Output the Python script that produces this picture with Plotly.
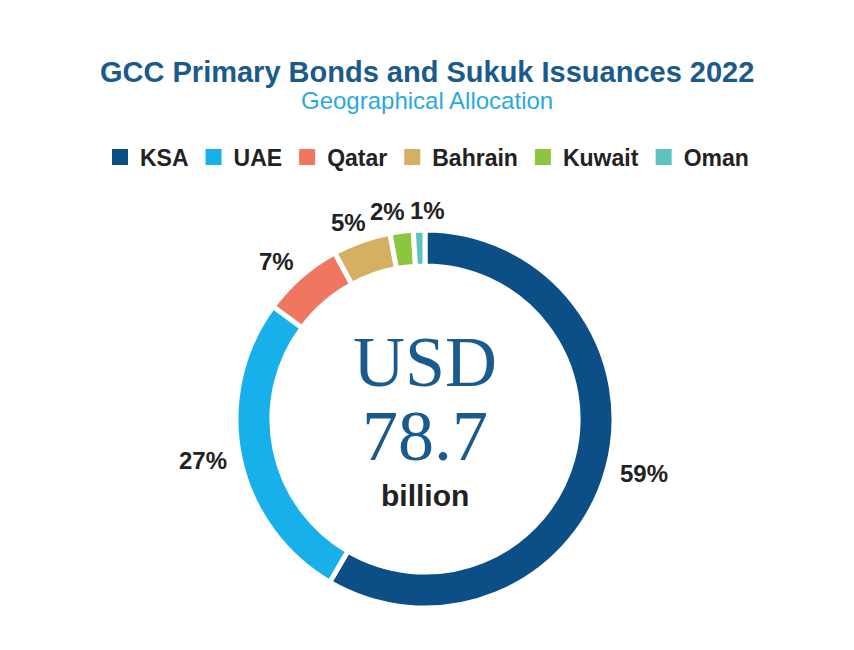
import math
import plotly.graph_objects as go

countries = ["KSA", "UAE", "Qatar", "Bahrain", "Kuwait", "Oman"]
shares = [59, 27, 7, 5, 2, 1]
share_labels = ["59%", "27%", "7%", "5%", "2%", "1%"]
colors = ["#0b4f86", "#18b0ea", "#f0775f", "#d5b062", "#8cc63f", "#5cc3c1"]

title_text = "GCC Primary Bonds and Sukuk Issuances 2022"
subtitle_text = "Geographical Allocation"
currency_text = "USD"
total_text = "78.7"
unit_text = "billion"

W, H = 854, 650
CX, CY, R = 425, 419, 189  # donut centre and outer radius, pixels

SANS = "Liberation Sans, Arial, sans-serif"
SERIF = "Liberation Serif, Times New Roman, serif"
LABEL_SIZE = 24

fig = go.Figure()
fig.add_trace(go.Pie(
    labels=countries,
    values=shares,
    textinfo="none",
    marker=dict(colors=colors, line=dict(color="white", width=5)),
    hole=0.81,
    sort=False,
    direction="clockwise",
    rotation=0,
    domain=dict(x=[(CX - R) / W, (CX + R) / W], y=[(H - CY - R) / H, (H - CY + R) / H]),
    showlegend=False,
    hoverinfo="label+percent",
))

# legend entries (square swatches)
for name, col in zip(countries, colors):
    fig.add_trace(go.Scatter(
        x=[None], y=[None], mode="markers", name=name,
        marker=dict(symbol="square", size=16, color=col),
        showlegend=True,
    ))

# percentage labels placed outside the ring at each slice's mid-angle
def text_width(s):
    return sum((0.889 if c == "%" else 0.556) for c in s) * LABEL_SIZE

positions = []
total = sum(shares)
cum = 0
for val, lab in zip(shares, share_labels):
    mid = (cum + val / 2) / total * 2 * math.pi
    cum += val
    ux, uy = math.sin(mid), math.cos(mid)  # uy points up
    hw, hh = 30, 12
    px = CX + (R + 8) * ux + hw * ux
    py = CY - (R + 8) * uy - hh * uy
    positions.append([px, py, lab])

# push apart neighbouring labels that would collide
for _ in range(5):
    for i in range(len(positions) - 1):
        a, b = positions[i], positions[i + 1]
        if abs(a[1] - b[1]) < 22:
            need = (text_width(a[2]) + text_width(b[2])) / 2 + 5
            gap = b[0] - a[0]
            if abs(gap) < need:
                shift = (need - abs(gap)) / 2
                sgn = 1 if gap >= 0 else -1
                a[0] -= sgn * shift
                b[0] += sgn * shift

annotations = []
for px, py, lab in positions:
    annotations.append(dict(
        text=f"<b>{lab}</b>", x=px / W, y=1 - py / H, xref="paper", yref="paper",
        showarrow=False, xanchor="center", yanchor="middle",
        font=dict(family=SANS, size=LABEL_SIZE, color="#222222"),
    ))

annotations += [
    dict(text=f"<b>{title_text}</b>", x=0.5, y=1 - 72 / H, xref="paper", yref="paper",
         showarrow=False, xanchor="center", yanchor="middle",
         font=dict(family=SANS, size=29, color="#1b5a8c")),
    dict(text=subtitle_text, x=0.5, y=1 - 101 / H, xref="paper", yref="paper",
         showarrow=False, xanchor="center", yanchor="middle",
         font=dict(family=SANS, size=24, color="#2aa9df")),
    dict(text=currency_text, x=CX / W, y=1 - 362 / H, xref="paper", yref="paper",
         showarrow=False, xanchor="center", yanchor="middle", height=66,
         font=dict(family=SERIF, size=72, color="#1b5a8c")),
    dict(text=total_text, x=CX / W, y=1 - 436 / H, xref="paper", yref="paper",
         showarrow=False, xanchor="center", yanchor="middle", height=66,
         font=dict(family=SERIF, size=72, color="#1b5a8c")),
    dict(text=f"<b>{unit_text}</b>", x=CX / W, y=1 - 495 / H, xref="paper", yref="paper",
         showarrow=False, xanchor="center", yanchor="middle",
         font=dict(family=SANS, size=30, color="#222222")),
]

fig.update_layout(
    width=W, height=H,
    margin=dict(l=0, r=0, t=0, b=0),
    paper_bgcolor="white",
    plot_bgcolor="white",
    xaxis=dict(visible=False),
    yaxis=dict(visible=False),
    showlegend=True,
    legend=dict(
        orientation="h", x=0.5, xanchor="center", y=1 - 157 / H, yanchor="middle",
        font=dict(family=SANS, size=23, color="#222222", weight="bold"),
        itemwidth=30, traceorder="normal", itemsizing="trace",
    ),
    annotations=annotations,
)

fig.write_html("out.html")
